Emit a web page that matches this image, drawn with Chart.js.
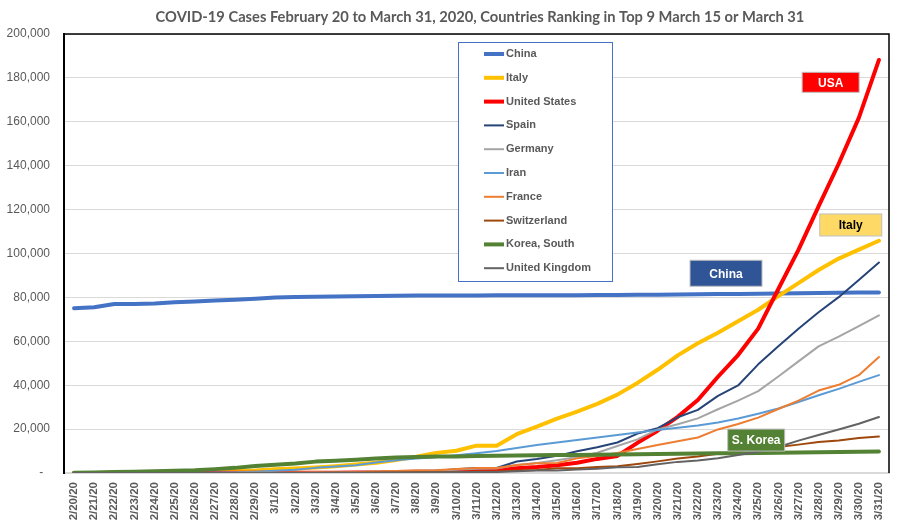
<!DOCTYPE html>
<html>
<head>
<meta charset="utf-8">
<script src="https://cdn.jsdelivr.net/npm/chart.js@4.4.1/dist/chart.umd.min.js"></script>
<style>
  html, body { margin: 0; padding: 0; background: #fff; }
</style>
</head>
<body>
<canvas id="myChart" width="897" height="526"></canvas>
<script>
// Data
var dates = ["2/20/20", "2/21/20", "2/22/20", "2/23/20", "2/24/20", "2/25/20", "2/26/20", "2/27/20", "2/28/20", "2/29/20",
  "3/1/20", "3/2/20", "3/3/20", "3/4/20", "3/5/20", "3/6/20", "3/7/20", "3/8/20", "3/9/20", "3/10/20",
  "3/11/20", "3/12/20", "3/13/20", "3/14/20", "3/15/20", "3/16/20", "3/17/20", "3/18/20", "3/19/20", "3/20/20",
  "3/21/20", "3/22/20", "3/23/20", "3/24/20", "3/25/20", "3/26/20", "3/27/20", "3/28/20", "3/29/20", "3/30/20", "3/31/20"];

var countries = ["China", "Italy", "United States", "Spain", "Germany", "Iran", "France", "Switzerland", "Korea, South", "United Kingdom"];

var china = [75077, 75550, 77001, 77022, 77241, 77754, 78166, 78600, 78928, 79356,
  79932, 80136, 80261, 80386, 80537, 80690, 80770, 80823, 80860, 80887,
  80921, 80932, 80945, 80977, 81003, 81033, 81058, 81102, 81156, 81250,
  81305, 81435, 81498, 81591, 81661, 81782, 81897, 81999, 82122, 82198, 82279];
var italy = [3, 20, 62, 155, 229, 322, 453, 655, 888, 1128,
  1694, 2036, 2502, 3089, 3858, 4636, 5883, 7375, 9172, 10149,
  12462, 12462, 17660, 21157, 24747, 27980, 31506, 35713, 41035, 47021,
  53578, 59138, 63927, 69176, 74386, 80589, 86498, 92472, 97689, 101739, 105792];
var usa = [13, 15, 15, 15, 51, 51, 57, 58, 60, 68,
  74, 98, 118, 149, 217, 262, 402, 518, 583, 959,
  1281, 1663, 2179, 2727, 3499, 4632, 6421, 7783, 13747, 19273,
  25600, 33276, 43847, 53740, 65778, 83836, 101657, 121478, 140886, 161807, 188172];
var spain = [2, 2, 2, 2, 2, 6, 13, 15, 32, 45,
  84, 120, 165, 222, 259, 400, 500, 673, 1073, 1695,
  2277, 2277, 5232, 6391, 7798, 9942, 11748, 13910, 17963, 20410,
  25374, 28768, 35136, 39885, 49515, 57786, 65719, 73235, 80110, 87956, 95923];
var germany = [16, 16, 16, 16, 16, 17, 27, 46, 48, 79,
  130, 159, 196, 262, 482, 670, 799, 1040, 1176, 1457,
  1908, 2078, 3675, 4585, 5795, 7272, 9257, 12327, 15320, 19848,
  22213, 24873, 29056, 32986, 37323, 43938, 50871, 57695, 62095, 66885, 71808];
var iran = [5, 18, 28, 43, 61, 95, 139, 245, 388, 593,
  978, 1501, 2336, 2922, 3513, 4747, 5823, 6566, 7161, 8042,
  9000, 10075, 11364, 12729, 13938, 14991, 16169, 17361, 18407, 19644,
  20610, 21638, 23049, 24811, 27017, 29406, 32332, 35408, 38309, 41495, 44605];
var france = [12, 12, 12, 12, 12, 14, 18, 38, 57, 100,
  130, 191, 204, 288, 380, 656, 957, 1134, 1217, 1792,
  2290, 2290, 3678, 4487, 4523, 6668, 7699, 9105, 10947, 12726,
  14431, 16176, 19856, 22304, 25233, 29155, 32964, 37575, 40174, 44550, 52827];
var switzerland = [0, 0, 0, 0, 0, 1, 1, 8, 8, 18,
  27, 42, 56, 90, 114, 214, 268, 337, 374, 491,
  652, 652, 1139, 1359, 2200, 2200, 2700, 3028, 4075, 5294,
  6575, 7474, 8795, 9877, 10897, 11811, 12928, 14076, 14829, 15922, 16605];
var korea = [104, 204, 433, 602, 833, 977, 1261, 1766, 2337, 3150,
  3736, 4335, 5186, 5621, 6088, 6593, 7041, 7314, 7478, 7513,
  7755, 7869, 7979, 8086, 8162, 8236, 8320, 8413, 8565, 8652,
  8799, 8897, 8961, 9037, 9137, 9241, 9332, 9478, 9583, 9661, 9786];
var uk = [9, 9, 9, 9, 13, 13, 13, 15, 20, 23,
  36, 40, 51, 86, 116, 164, 207, 274, 322, 384,
  459, 459, 802, 1144, 1145, 1551, 1960, 2642, 2716, 4014,
  5067, 5741, 6726, 8164, 9640, 11812, 14745, 17312, 19780, 22453, 25481];

var series = [china, italy, usa, spain, germany, iran, france, switzerland, korea, uk];
var colors = ["#4472C4", "#FFC000", "#FF0000", "#264478", "#A5A5A5", "#5B9BD5", "#ED7D31", "#9E480E", "#548235", "#636363"];
var widths = [4, 4, 4, 2, 2, 2, 2, 2, 4, 2];

var yMax = 200000;
var yStep = 20000;
var chartTitle = "COVID-19 Cases February 20 to March 31, 2020, Countries Ranking in Top 9 March 15 or March 31";

// callout boxes next to the lines (x = category index, y = value)
var callouts = [
  { text: "USA", x: 37.6, y: 178000, w: 57, h: 20, bg: "#FF0000", fg: "#FFFFFF" },
  { text: "Italy", x: 38.6, y: 113000, w: 62, h: 22, bg: "#FFD966", fg: "#000000" },
  { text: "China", x: 32.4, y: 91000, w: 72, h: 26, bg: "#2F5597", fg: "#FFFFFF" },
  { text: "S. Korea", x: 33.9, y: 15000, w: 57, h: 22, bg: "#548235", fg: "#FFFFFF" }
];

var datasets = [];
for (var i = 0; i < series.length; i++) {
  datasets.push({
    label: countries[i],
    data: series[i],
    borderColor: colors[i],
    backgroundColor: colors[i],
    borderWidth: widths[i],
    pointRadius: 0,
    tension: 0,
    fill: false,
    borderCapStyle: "round",
    borderJoinStyle: "round",
    order: -i
  });
}

// white background, title, and frame on top and right of the plot area
var framePlugin = {
  id: "frame",
  beforeDraw: function (chart) {
    var ctx = chart.ctx;
    ctx.save();
    ctx.fillStyle = "#fff";
    ctx.fillRect(0, 0, chart.width, chart.height);
    ctx.restore();
  },
  afterDraw: function (chart) {
    var ctx = chart.ctx, a = chart.chartArea;
    ctx.save();
    ctx.strokeStyle = "#000";
    ctx.lineWidth = 1.5;
    ctx.beginPath();
    ctx.moveTo(a.left, a.top);
    ctx.lineTo(a.right, a.top);
    ctx.lineTo(a.right, a.bottom);
    ctx.stroke();

    ctx.fillStyle = "#595959";
    ctx.font = "bold 14.7px Lato";
    ctx.textAlign = "center";
    ctx.textBaseline = "middle";
    ctx.fillText(chartTitle, 480, 17);
    ctx.restore();
  }
};

// boxed legend inside the plot
var boxLegend = {
  id: "boxLegend",
  afterDatasetsDraw: function (chart) {
    var ctx = chart.ctx, a = chart.chartArea;
    var x0 = a.left + 394, y0 = a.top + 8, w = 154, h = 239;
    ctx.save();
    ctx.fillStyle = "#fff";
    ctx.fillRect(x0, y0, w, h);
    ctx.strokeStyle = "#4472C4";
    ctx.lineWidth = 1;
    ctx.strokeRect(x0 + 0.5, y0 + 0.5, w, h);
    ctx.font = "bold 11px 'Liberation Sans'";
    ctx.textBaseline = "middle";
    ctx.textAlign = "left";
    chart.data.datasets.forEach(function (ds, i) {
      var y = y0 + 12 + i * 23.8;
      ctx.strokeStyle = ds.borderColor;
      ctx.lineWidth = ds.borderWidth;
      ctx.beginPath();
      ctx.moveTo(x0 + 26, y);
      ctx.lineTo(x0 + 46, y);
      ctx.stroke();
      ctx.fillStyle = "#595959";
      ctx.fillText(ds.label, x0 + 48, y);
    });
    ctx.restore();

    // callouts
    var xs = chart.scales.x, ys = chart.scales.y;
    ctx.save();
    ctx.font = "bold 12px 'Liberation Sans'";
    ctx.textAlign = "center";
    ctx.textBaseline = "middle";
    callouts.forEach(function (c) {
      var cx = xs.getPixelForValue(c.x), cy = ys.getPixelForValue(c.y);
      ctx.fillStyle = c.bg;
      ctx.fillRect(cx - c.w / 2, cy - c.h / 2, c.w, c.h);
      ctx.strokeStyle = "#BFBFBF";
      ctx.lineWidth = 1;
      ctx.strokeRect(cx - c.w / 2, cy - c.h / 2, c.w, c.h);
      ctx.fillStyle = c.fg;
      ctx.fillText(c.text, cx, cy + 1);
    });
    ctx.restore();
  }
};

var ctx = document.getElementById("myChart").getContext("2d");
var myChart = new Chart(ctx, {
  type: "line",
  data: { labels: dates, datasets: datasets },
  plugins: [framePlugin, boxLegend],
  options: {
    responsive: false,
    animation: false,
    layout: { padding: { left: 0, right: 8, top: 34, bottom: 0 } },
    plugins: {
      legend: { display: false },
      tooltip: { enabled: false },
      title: { display: false }
    },
    scales: {
      x: {
        offset: true,
        grid: { display: false, drawTicks: false },
        border: { display: true, color: "#D9D9D9", width: 2 },
        ticks: {
          autoSkip: false,
          minRotation: 90,
          maxRotation: 90,
          padding: 9,
          color: "#595959",
          font: { family: "Liberation Sans", size: 11.5, weight: "bold" }
        },
        afterFit: function (scale) {
          scale.height = 53;
          scale.paddingLeft = 0;
          scale.paddingRight = 0;
        }
      },
      y: {
        min: 0,
        max: yMax,
        grid: { color: "#D9D9D9", lineWidth: 1, drawTicks: false },
        border: { display: true, color: "#000", width: 2 },
        ticks: {
          stepSize: yStep,
          padding: 14,
          color: "#595959",
          font: { family: "Liberation Sans", size: 12 },
          callback: function (v) { return v === 0 ? "-  " : v.toLocaleString("en-US"); }
        },
        afterFit: function (scale) { scale.width = 64; }
      }
    }
  }
});
</script>
</body>
</html>
